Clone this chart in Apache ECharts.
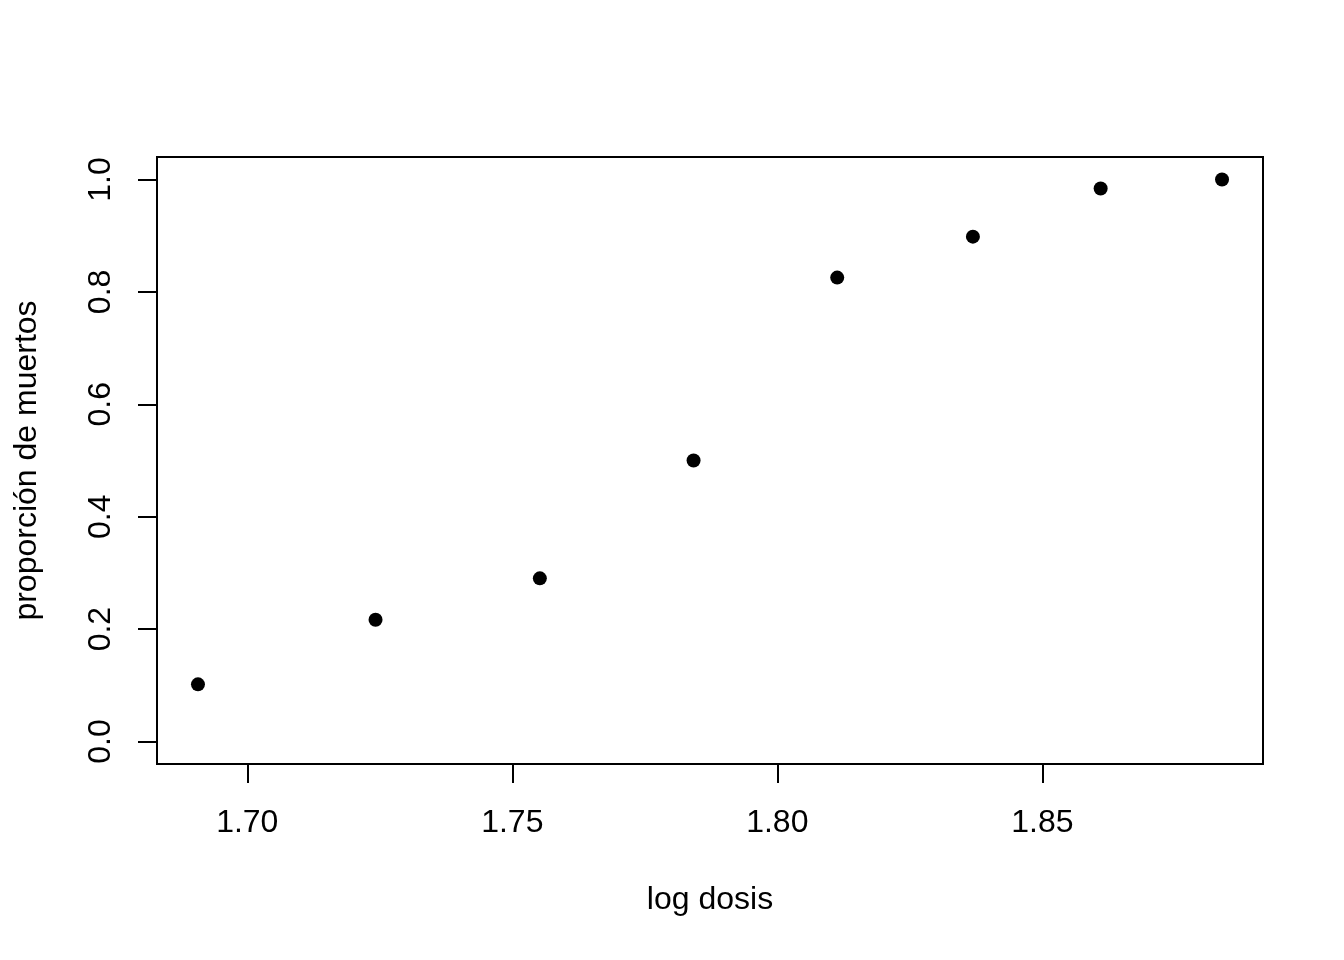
<!DOCTYPE html>
<html>
<head>
<meta charset="utf-8">
<script src="https://cdn.jsdelivr.net/npm/echarts@6/dist/echarts.min.js"></script>
<style>
  html, body { margin: 0; padding: 0; background: #fff; }
  #main { width: 1344px; height: 960px; }
</style>
</head>
<body>
<div id="main"></div>
<script>
// log dosis vs proporción de muertos
const logDosis = [1.6907, 1.7242, 1.7552, 1.7842, 1.8113, 1.8369, 1.8610, 1.8839];
const proporcion = [0.1017, 0.2167, 0.2903, 0.5000, 0.8254, 0.8983, 0.9839, 1.0000];
const xTicks = [1.70, 1.75, 1.80, 1.85];
const yTicks = [0.0, 0.2, 0.4, 0.6, 0.8, 1.0];

const font = 'Liberation Sans, Arial, sans-serif';
const chart = echarts.init(document.getElementById('main'), null, { renderer: 'canvas' });

chart.setOption({
  animation: false,
  backgroundColor: '#fff',
  grid: {
    left: 157, right: 81, top: 157, bottom: 196,
    show: true, borderColor: '#000', borderWidth: 2, backgroundColor: 'transparent'
  },
  xAxis: {
    type: 'value',
    min: 1.68297,
    max: 1.89163,
    name: 'log dosis',
    nameLocation: 'middle',
    nameGap: 120,
    nameTextStyle: { color: '#000', fontSize: 32, fontFamily: font },
    splitLine: { show: false },
    axisLine: { show: true, onZero: false, lineStyle: { color: '#000', width: 2 } },
    axisTick: {
      show: true, length: 19, customValues: xTicks,
      lineStyle: { color: '#000', width: 2 }
    },
    axisLabel: {
      customValues: xTicks, margin: 43,
      color: '#000', fontSize: 32, fontFamily: font,
      formatter: v => v.toFixed(2)
    }
  },
  yAxis: {
    type: 'value',
    min: -0.04,
    max: 1.04,
    name: 'proporción de muertos',
    nameLocation: 'middle',
    nameGap: 114,
    nameTextStyle: { color: '#000', fontSize: 32, fontFamily: font },
    splitLine: { show: false },
    axisLine: { show: true, onZero: false, lineStyle: { color: '#000', width: 2 } },
    axisTick: {
      show: true, length: 19, customValues: yTicks,
      lineStyle: { color: '#000', width: 2 }
    },
    axisLabel: {
      customValues: yTicks, margin: 40, rotate: 90,
      color: '#000', fontSize: 32, fontFamily: font,
      formatter: v => v.toFixed(1)
    }
  },
  series: [{
    type: 'scatter',
    data: logDosis.map((x, i) => [x, proporcion[i]]),
    symbol: 'circle',
    symbolSize: 14,
    itemStyle: { color: '#000', opacity: 1 }
  }]
});
</script>
</body>
</html>
